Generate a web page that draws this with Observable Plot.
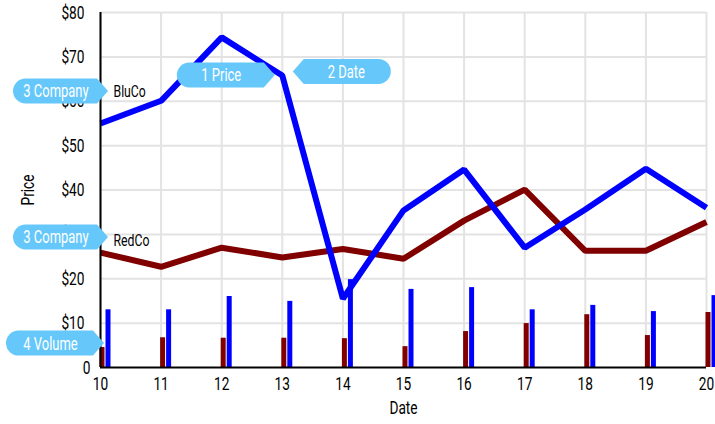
<!DOCTYPE html>
<html>
<head>
<meta charset="utf-8">
<script src="https://cdn.jsdelivr.net/npm/d3@7"></script>
<script src="https://cdn.jsdelivr.net/npm/@observablehq/plot@0.6"></script>
<style>
  body { margin: 0; background: #fff; }
  #chart svg { font-family: Roboto, "Liberation Sans", sans-serif; font-weight: 400; }
</style>
</head>
<body>
<div id="chart"></div>
<script>
const dates = [10, 11, 12, 13, 14, 15, 16, 17, 18, 19, 20];
const bluPrice = [55, 60.1, 74.4, 65.8, 15.5, 35.4, 44.6, 27, 35.6, 44.8, 36];
const redPrice = [25.9, 22.7, 27, 24.8, 26.7, 24.5, 33.1, 40.1, 26.3, 26.3, 32.8];
const bluVolume = [13, 13, 16, 14.9, 19.8, 17.6, 18, 13, 14, 12.6, 16.2];
const redVolume = [4.5, 6.7, 6.6, 6.6, 6.5, 4.7, 8.1, 9.9, 11.9, 7.2, 12.4];
const companies = ["BluCo", "RedCo"];
const companyLabelPrice = [62.2, 28.7];
const calloutText = ["1 Price", "2 Date", "3 Company", "3 Company", "4 Volume"];
const calloutDate = [13, 13, 10, 10, 10];
const calloutValue = [65.8, 66.6, 62.2, 29.3, 5.4];
const calloutSide = ["left", "right", "left", "left", "left"];
const yTicks = [10, 20, 30, 40, 50, 60, 70, 80];
const yZeroTick = [0];

const blu = dates.map((d, i) => ({date: d, price: bluPrice[i], volume: bluVolume[i]}));
const red = dates.map((d, i) => ({date: d, price: redPrice[i], volume: redVolume[i]}));
const labels = companies.map((c, i) => ({company: c, date: 10, price: companyLabelPrice[i]}));
const callouts = calloutText.map((t, i) => ({text: t, date: calloutDate[i], value: calloutValue[i], side: calloutSide[i]}));

const BLUE = "#0000ff", DARKRED = "#800000", CALLOUT = "#66c8fa";
const dxOffset = {"1 Price": -7, "2 Date": 11, "3 Company": 8, "4 Volume": 4};

function calloutMark(index, scales) {
  const ns = "http://www.w3.org/2000/svg";
  const g = document.createElementNS(ns, "g");
  for (const c of callouts) {
    const tx = scales.x(c.date) + dxOffset[c.text];
    const ty = scales.y(c.value);
    const w = c.text === "3 Company" ? 95 : 98, h = 25, r = 12.5, tip = 11;
    let d, textX;
    if (c.side === "left") {
      d = `M${tx},${ty} L${tx - tip},${ty - h / 2} L${tx - w + r},${ty - h / 2} A${r},${r} 0 0 0 ${tx - w + r},${ty + h / 2} L${tx - tip},${ty + h / 2} Z`;
      textX = tx - tip - (w - tip) / 2 + 1;
    } else {
      d = `M${tx},${ty} L${tx + tip},${ty - h / 2} L${tx + w - r},${ty - h / 2} A${r},${r} 0 0 1 ${tx + w - r},${ty + h / 2} L${tx + tip},${ty + h / 2} Z`;
      textX = tx + tip + (w - tip) / 2 - 1;
    }
    const p = document.createElementNS(ns, "path");
    p.setAttribute("d", d);
    p.setAttribute("fill", CALLOUT);
    g.appendChild(p);
    const t = document.createElementNS(ns, "text");
    t.setAttribute("x", textX);
    t.setAttribute("y", ty);
    t.setAttribute("dy", "0.36em");
    t.setAttribute("text-anchor", "middle");
    t.setAttribute("fill", "#ffffff");
    t.setAttribute("font-size", "18");
    t.textContent = c.text;
    g.appendChild(t);
  }
  return g;
}

const fmt = d => d === 0 ? "0" : "$" + d;

const chart = Plot.plot({
  width: 715,
  height: 424,
  marginTop: 12,
  marginLeft: 100,
  marginRight: 9,
  marginBottom: 57,
  style: {fontSize: "19px", background: "#fff", overflow: "visible"},
  x: {domain: [10, 20], ticks: dates},
  y: {domain: [0, 80]},
  marks: [
    Plot.gridX(dates, {stroke: "#e3e3e3", strokeWidth: 2, strokeOpacity: 1}),
    Plot.gridY(yTicks, {stroke: "#e3e3e3", strokeWidth: 2, strokeOpacity: 1}),
    Plot.ruleX(red, {x: "date", y1: 0, y2: "volume", stroke: DARKRED, strokeWidth: 5, dx: 1.5}),
    Plot.ruleX(blu, {x: "date", y1: 0, y2: "volume", stroke: BLUE, strokeWidth: 5, dx: 7.5}),
    Plot.line(red, {x: "date", y: "price", stroke: DARKRED, strokeWidth: 6, strokeLinejoin: "miter", strokeLinecap: "butt"}),
    Plot.line(blu, {x: "date", y: "price", stroke: BLUE, strokeWidth: 6, strokeLinejoin: "miter", strokeLinecap: "butt"}),
    Plot.ruleX([10], {stroke: "#000", strokeWidth: 2}),
    Plot.ruleY([0], {stroke: "#000", strokeWidth: 2}),
    Plot.axisX({ticks: dates, tickSize: 0, tickPadding: 9, label: "Date", labelAnchor: "center", labelArrow: "none", labelOffset: 46, fill: "#000", fontSize: 19}),
    Plot.axisY({ticks: yTicks, tickSize: 0, tickPadding: 16, tickFormat: fmt, label: "Price", labelAnchor: "center", labelArrow: "none", labelOffset: 80, fill: "#000", fontSize: 19}),
    Plot.axisY({ticks: yZeroTick, tickSize: 0, tickPadding: 10, tickFormat: fmt, label: null, fill: "#000", fontSize: 19}),
    Plot.text(labels, {x: "date", y: "price", text: "company", textAnchor: "start", dx: 13, fill: "#000", fontSize: 17}),
    calloutMark
  ]
});
document.getElementById("chart").appendChild(chart);

// Condense all text glyphs horizontally to mimic the condensed typeface
chart.querySelectorAll("text").forEach(t => {
  const len = t.getComputedTextLength();
  if (len > 0) {
    t.setAttribute("textLength", (len * 0.72).toFixed(1));
    t.setAttribute("lengthAdjust", "spacingAndGlyphs");
  }
});
</script>
</body>
</html>
